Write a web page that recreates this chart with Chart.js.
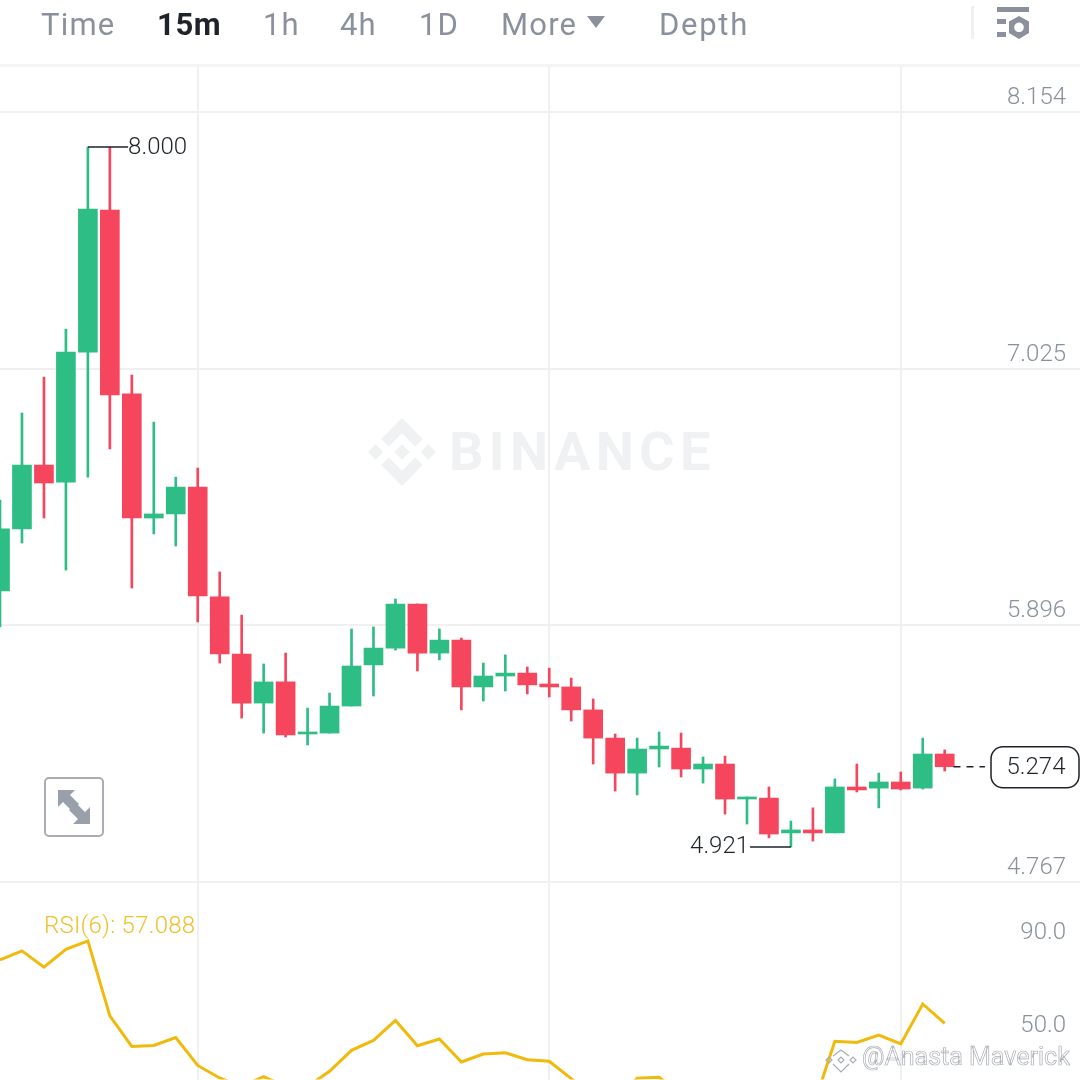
<!DOCTYPE html>
<html>
<head>
<meta charset="utf-8">
<script src="https://cdn.jsdelivr.net/npm/chart.js@4/dist/chart.umd.min.js"></script>
<style>
html, body { margin: 0; padding: 0; background: #fff; }
#page { position: relative; width: 1080px; height: 1080px; overflow: hidden; font-family: Roboto, sans-serif; }
canvas { position: absolute; left: 0; top: 0; }
.tab { position: absolute; top: 5px; font-size: 31px; line-height: 40px; color: #8a919c; letter-spacing: 1.2px; white-space: nowrap; }
.tab.on { color: #1e2329; font-weight: 700; letter-spacing: .6px; }
#topline { position: absolute; left: 0; top: 64px; width: 1080px; height: 3px; background: #f3f4f6; }
#sep { position: absolute; left: 971px; top: 6px; width: 3px; height: 33px; background: #eef0f2; }
#wmtext { position: absolute; left: 449px; top: 421px; font-size: 54px; line-height: 62px; font-weight: 700; color: #f0f1f2; letter-spacing: 5.4px; }
#rsilabel { position: absolute; left: 44px; top: 911px; font-size: 24px; font-weight: 300; line-height: 28px; color: #eec12e; letter-spacing: .25px; }
#credit { position: absolute; left: 862px; top: 1041px; font-size: 25px; line-height: 32px; color: #fff; -webkit-text-stroke: .7px #a9adb3; white-space: nowrap; }
svg { position: absolute; }
</style>
</head>
<body>
<div id="page">
    <svg style="left:368px;top:418px" width="68" height="68" viewBox="0 0 126.61 126.61" fill="#f0f1f2">
        <path d="M38.73 53.2l24.59-24.58 24.6 24.6 14.3-14.31L63.32 0 24.42 38.9zM0 63.31l14.3-14.31 14.31 14.31-14.31 14.3zM38.73 73.41l24.59 24.59 24.6-24.6 14.31 14.29-38.9 38.91-38.91-38.88zM98 63.31l14.3-14.31 14.31 14.3-14.31 14.32zM77.83 63.3L63.32 48.78 52.59 59.51l-1.24 1.23-2.54 2.54 14.51 14.5 14.51-14.47z"/>
    </svg>
    <div id="wmtext">BINANCE</div>

    <canvas id="velas" width="1080" height="1080"></canvas>
    <canvas id="rsi" width="1080" height="1080"></canvas>

    <div class="tab" style="left:41px">Time</div>
    <div class="tab on" style="left:157px">15m</div>
    <div class="tab" style="left:263px">1h</div>
    <div class="tab" style="left:340px">4h</div>
    <div class="tab" style="left:419px">1D</div>
    <div class="tab" style="left:501px">More</div>
    <svg style="left:586px;top:15px" width="20" height="14"><path d="M1 1H19L10 13Z" fill="#8a919c"/></svg>
    <div class="tab" style="left:659px;letter-spacing:1.7px">Depth</div>
    <div id="topline"></div>
    <div id="sep"></div>
    <svg style="left:997px;top:6px" width="34" height="34" fill="#8a919c">
        <rect x="0" y="1" width="32" height="5"/>
        <rect x="0" y="13" width="9" height="5"/>
        <rect x="0" y="26" width="9" height="5"/>
        <path fill-rule="evenodd" d="M22 10L32 15.5V27L22 33L12 27V15.5ZM22 16.5A4.8 4.8 0 1 0 22.01 16.5Z"/>
    </svg>

    <svg style="left:44px;top:777px" width="60" height="60">
        <rect x="1" y="1" width="58" height="58" rx="4" fill="#fff" stroke="#a9adb3" stroke-width="2"/>
        <path d="M14 13H31L26 18L35 27L28 34L19 25L14 30Z" fill="#9aa0a9"/>
        <path d="M46 47H29L34 42L25 33L32 26L41 35L46 30Z" fill="#9aa0a9"/>
    </svg>

    <div id="rsilabel">RSI(6): 57.088</div>

    <svg style="left:825px;top:1049px" width="32" height="24" viewBox="0 0 32 24" fill="none" stroke="#a9adb3" stroke-width="1.2">
        <path d="M8 7L16 1L24 7M1 11L4 8L7 11L4 14ZM25 11L28 8L31 11L28 14ZM13 11L16 8L19 11L16 14ZM8 15L16 23L24 15"/>
    </svg>
    <div id="credit">@Anasta Maverick</div>
</div>

<script>
// velas de 15m, de izquierda a derecha
var opens = [6.047,6.320,6.601,6.526,7.098,7.723,6.914,6.368,6.386,6.504,6.021,5.770,5.554,5.647,5.418,5.422,5.541,5.722,5.796,5.990,5.774,5.831,5.625,5.673,5.686,5.638,5.625,5.524,5.400,5.246,5.352,5.356,5.264,5.286,5.132,5.136,4.983,4.996,4.983,5.185,5.180,5.207,5.180,5.330];
var closes = [6.320,6.601,6.522,7.098,7.727,6.909,6.368,6.386,6.504,6.025,5.770,5.554,5.647,5.414,5.427,5.541,5.717,5.796,5.990,5.774,5.831,5.625,5.673,5.686,5.634,5.625,5.524,5.400,5.246,5.352,5.365,5.264,5.286,5.132,5.141,4.978,4.996,4.983,5.185,5.172,5.207,5.176,5.330,5.274];
var highs = [6.447,6.830,6.988,7.199,8.000,8.000,6.997,6.790,6.548,6.588,6.131,5.941,5.726,5.774,5.532,5.598,5.880,5.889,6.012,5.990,5.880,5.840,5.730,5.766,5.713,5.708,5.664,5.572,5.418,5.400,5.427,5.422,5.317,5.321,5.141,5.185,5.035,5.093,5.220,5.286,5.246,5.251,5.400,5.348];
var lows = [5.889,6.258,6.368,6.139,6.548,6.672,6.060,6.298,6.245,5.911,5.730,5.488,5.422,5.405,5.370,5.422,5.541,5.585,5.787,5.695,5.744,5.524,5.563,5.607,5.594,5.581,5.475,5.286,5.167,5.150,5.273,5.229,5.202,5.066,5.022,4.961,4.921,4.947,4.983,5.163,5.093,5.172,5.176,5.255];

// un valor RSI por vela; los que caen bajo el borde de la imagen son estimados
var rsiValues = [84.4,88.3,81.3,89.0,92.6,60.3,47.1,47.5,50.9,38.9,33.5,29.8,34.1,29.8,29.8,36.4,45.4,49.7,58.3,47.4,50.3,40.4,43.8,44.4,41.4,40.7,33.2,26.3,22.0,33.4,33.8,26.3,24.2,19.9,19.0,16.5,16.5,20.8,49.3,48.8,52.0,48.2,65.4,57.088];

var priceTicks = [8.154,7.025,5.896,4.767];
var rsiTicks = [90,50];
var gridCandles = [9,25,41];

var maxPrice = 8.000, maxCandle = 4, maxLabelAt = 5.83;
var minPrice = 4.921, minCandle = 36, minLabelAt = 34.14;
var lastPrice = 5.274, lastFrom = 43.4, lastTo = 44.83;

var verde = "#2ebd85", rojo = "#f6465d", tinta = "#1e2329", gris = "#8a919c", rejilla = "#eff0f2";
var fuente = "Roboto, sans-serif";

var colores = opens.map(function(o, i){ return closes[i] >= o ? verde : rojo; });
var cuerpos = opens.map(function(o, i){ return {x: i, y: [o, closes[i]]}; });
var mechas = lows.map(function(l, i){ return {x: i, y: [l, highs[i]]}; });
var lineaRsi = rsiValues.map(function(v, i){ return {x: i, y: v}; });

function ejeX(){
    return {
        type: 'linear',
        offset: false,
        min: 0,
        max: 49.158,
        afterBuildTicks: function(s){ s.ticks = gridCandles.map(function(v){ return {value: v}; }); },
        afterFit: function(s){ s.height = 0; },
        ticks: {display: false},
        border: {display: false},
        grid: {offset: false, color: rejilla, lineWidth: 2, drawTicks: false}
    };
}

function ejeY(valores, min, max, decimales, conRejilla){
    return {
        type: 'linear',
        position: 'right',
        min: min,
        max: max,
        afterBuildTicks: function(s){ s.ticks = valores.map(function(v){ return {value: v}; }); },
        afterFit: function(s){ s.width = 0; },
        ticks: {
            mirror: true,
            padding: -14,
            labelOffset: -14,
            color: gris,
            font: {family: fuente, size: 24, weight: '300'},
            callback: function(v){ return v.toFixed(decimales); }
        },
        border: {display: false},
        grid: {display: conRejilla, color: rejilla, lineWidth: 2, drawTicks: false}
    };
}

var etiquetas = {
    id: 'etiquetas',
    afterDatasetsDraw: function(chart){
        var ctx = chart.ctx, x = chart.scales.x, y = chart.scales.y;
        ctx.save();
        ctx.font = "300 24px " + fuente;
        ctx.fillStyle = tinta;
        ctx.textBaseline = 'middle';
        ctx.textAlign = 'left';
        ctx.fillText(maxPrice.toFixed(3), x.getPixelForValue(maxLabelAt), y.getPixelForValue(maxPrice) + 1);
        ctx.textAlign = 'right';
        ctx.fillText(minPrice.toFixed(3), x.getPixelForValue(minLabelAt) - 1, y.getPixelForValue(minPrice));

        var py = y.getPixelForValue(lastPrice);
        ctx.beginPath();
        ctx.roundRect(991, py - 20, 88, 41, 12);
        ctx.fillStyle = "#fff";
        ctx.fill();
        ctx.lineWidth = 1.5;
        ctx.strokeStyle = tinta;
        ctx.stroke();
        ctx.fillStyle = tinta;
        ctx.textAlign = 'center';
        ctx.fillText(lastPrice.toFixed(3), 1036, py + 1);
        ctx.restore();
    }
};

function guia(puntos, raya){
    return {
        type: 'line',
        data: puntos,
        borderColor: tinta,
        borderWidth: 1.5,
        borderDash: raya,
        pointRadius: 0,
        order: 0
    };
}

var chartVelas = new Chart(document.getElementById('velas').getContext('2d'), {
    type: 'bar',
    plugins: [etiquetas],
    data: {
        datasets: [
            {data: cuerpos, backgroundColor: colores, barThickness: 19, grouped: false, order: 1},
            {data: mechas, backgroundColor: colores, barThickness: 2, grouped: false, order: 2},
            guia([{x: maxCandle, y: maxPrice}, {x: maxLabelAt, y: maxPrice}], []),
            guia([{x: minLabelAt, y: minPrice}, {x: minCandle, y: minPrice}], []),
            guia([{x: lastFrom, y: lastPrice}, {x: lastTo, y: lastPrice}], [7, 6])
        ]
    },
    options: {
        responsive: false,
        animation: false,
        layout: {autoPadding: false, padding: {top: 66, bottom: 198}},
        plugins: {legend: {display: false}, tooltip: {enabled: false}},
        scales: {x: ejeX(), y: ejeY(priceTicks, 4.767, 8.3563, 3, true)}
    }
});

var chartRsi = new Chart(document.getElementById('rsi').getContext('2d'), {
    type: 'line',
    data: {
        datasets: [
            {data: lineaRsi, borderColor: "#f0b90b", borderWidth: 3, pointRadius: 0, tension: 0}
        ]
    },
    options: {
        responsive: false,
        animation: false,
        layout: {autoPadding: false, padding: {top: 882}},
        plugins: {legend: {display: false}, tooltip: {enabled: false}},
        scales: {x: ejeX(), y: ejeY(rsiTicks, 32.8, 118, 1, false)}
    }
});
</script>
</body>
</html>
